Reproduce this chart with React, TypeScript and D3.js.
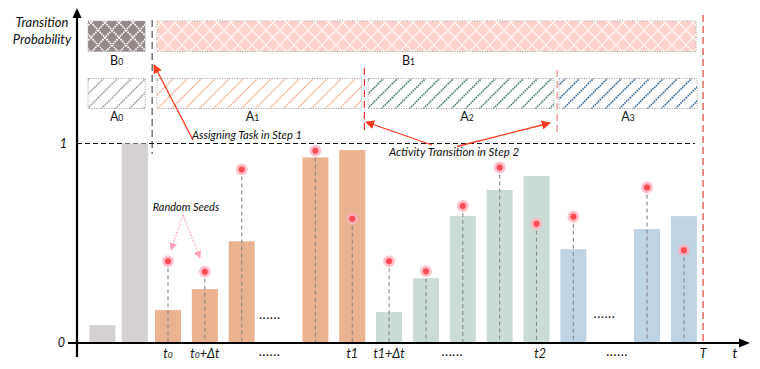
import React from 'react';
import * as d3 from 'd3';

// time slots (in units of Δt) for each bar, bar heights and random seeds
const barSlots = [-1.78, -0.9, 0, 1, 2, 4, 5, 6, 7, 8, 9, 10, 11, 13, 14];
const barValues = [0.09, 1.0, 0.165, 0.27, 0.51, 0.93, 0.967, 0.155, 0.325, 0.636, 0.767, 0.837, 0.47, 0.571, 0.636];
const barGroups = ['B0', 'B0', 'A1', 'A1', 'A1', 'A1', 'A1', 'A2', 'A2', 'A2', 'A2', 'A2', 'A3', 'A3', 'A3'];
const seedValues = [null, null, 0.41, 0.357, 0.87, 0.964, 0.623, 0.41, 0.36, 0.687, 0.88, 0.598, 0.633, 0.78, 0.465];

// tick labels on the time axis
const tickSlots = [0, 1, 2.77, 5, 6, 7.73, 10.1, 12.2, 14.52];
const tickMain = ['t', 't', '......', 't1', 't1+Δt', '......', 't2', '......', 'T'];
const tickSub = ['0', '0', '', '', '', '', '', '', ''];
const tickTail = ['', '+Δt', '', '', '', '', '', '', ''];

// activity segments (step 2) and task segments (step 1)
const activityNames = ['0', '1', '2', '3'];
const activityStart = [-2.17, -0.3, 5.43, 10.61];
const activityEnd = [-0.62, 5.26, 10.47, 14.36];
const taskNames = ['0', '1'];
const taskStart = [-2.17, -0.3];
const taskEnd = [-0.62, 14.33];

const barColor: Record<string, string> = { B0: '#d5d1d0', A1: '#ebb28f', A2: '#cbdbd6', A3: '#bfd3e3' };
const hatchColor = ['#a39c9b', '#f0b497', '#4e7e6c', '#3b6a92'];

export default function App() {
  const width = 760;
  const height = 369;
  const x = d3.scaleLinear().domain([0, 14]).range([168, 683.9]);
  const y = d3.scaleLinear().domain([0, 1]).range([343, 143.5]);
  const bw = 26;
  const font = 'Lato, "Open Sans", sans-serif';
  const axisX = 77;

  return (
    <svg width={width} height={height} style={{ display: 'block', position: 'absolute', left: 0, top: 0 }} fontFamily={font}>
      <defs>
        <pattern id="lattice" width="14" height="15" patternUnits="userSpaceOnUse">
          <path d="M0,0 L14,15 M14,0 L0,15" stroke="#fff" strokeWidth="1.7" strokeDasharray="1.6 0.9" />
        </pattern>
        {hatchColor.map((c, i) => (
          <pattern key={i} id={`hatch${i}`} width="14" height="14" patternUnits="userSpaceOnUse">
            <path d="M0,14 L14,0 M-2,2 L2,-2 M12,16 L16,12" stroke={c} strokeWidth="1.6" strokeDasharray="1.6 0.8" />
          </pattern>
        ))}
        <marker id="redHead" viewBox="0 0 10 10" refX="9" refY="5" markerWidth="7" markerHeight="7" orient="auto">
          <path d="M0,0 L10,5 L0,10 z" fill="#ff3b1f" />
        </marker>
        <marker id="pinkHead" viewBox="0 0 10 10" refX="9" refY="5" markerWidth="6" markerHeight="6" orient="auto">
          <path d="M0,0 L10,5 L0,10 z" fill="#ffa3b8" />
        </marker>
        <radialGradient id="halo">
          <stop offset="0%" stopColor="#ff8fa3" stopOpacity="0.9" />
          <stop offset="100%" stopColor="#ffb5c2" stopOpacity="0.7" />
        </radialGradient>
      </defs>

      {/* task boxes (step 1) */}
      {taskNames.map((n, i) => (
        <g key={`task${i}`}>
          <rect x={x(taskStart[i])} y={21} width={x(taskEnd[i]) - x(taskStart[i])} height={30.5}
            fill={i === 0 ? '#958a89' : '#ffd2cc'} stroke="#999" strokeWidth={1} strokeDasharray="1 1.5" />
          <rect x={x(taskStart[i])} y={21} width={x(taskEnd[i]) - x(taskStart[i])} height={30.5} fill="url(#lattice)" />
          <text x={(x(taskStart[i]) + x(taskEnd[i])) / 2 + (i === 1 ? -18 : 0)} y={65} fontSize={12.5} textAnchor="middle" fill="#111">
            B<tspan fontSize={8.5}>{n}</tspan>
          </text>
        </g>
      ))}

      {/* activity boxes (step 2) */}
      {activityNames.map((n, i) => (
        <g key={`act${i}`}>
          <rect x={x(activityStart[i])} y={78.5} width={x(activityEnd[i]) - x(activityStart[i])} height={30}
            fill={`url(#hatch${i})`} stroke="#999" strokeWidth={1} strokeDasharray="1 1.5" />
          <text x={(x(activityStart[i]) + x(activityEnd[i])) / 2 + (i === 1 ? -7 : 0) + (i === 2 ? 6 : 0)} y={121} fontSize={12.5} textAnchor="middle" fill="#111">
            A<tspan fontSize={8.5}>{n}</tspan>
          </text>
        </g>
      ))}

      {/* transition boundaries */}
      <line x1={x(-0.43)} x2={x(-0.43)} y1={20} y2={154} stroke="#555" strokeWidth={1.2} strokeDasharray="7 4" />
      <line x1={x(5.33)} x2={x(5.33)} y1={68} y2={133} stroke="#e8332a" strokeWidth={1.2} strokeDasharray="7 4" />
      <line x1={x(10.56)} x2={x(10.56)} y1={70} y2={133} stroke="#f28a86" strokeWidth={1.2} strokeDasharray="7 4" />
      <line x1={x(14.52)} x2={x(14.52)} y1={15} y2={y(0)} stroke="#d9433a" strokeWidth={1.2} strokeDasharray="7 4" />

      {/* probability = 1 line */}
      <line x1={axisX} x2={695} y1={y(1)} y2={y(1)} stroke="#111" strokeWidth={1.1} strokeDasharray="5 3" />

      {/* bars */}
      {barValues.map((v, i) => (
        <rect key={`bar${i}`} x={x(barSlots[i]) - bw / 2} y={y(v)} width={bw} height={y(0) - y(v)} fill={barColor[barGroups[i]]} />
      ))}

      {/* seeds */}
      {seedValues.map((v, i) => v == null ? null : (
        <g key={`seed${i}`}>
          <line x1={x(barSlots[i])} x2={x(barSlots[i])} y1={y(v)} y2={y(0)} stroke="#8a8a8a" strokeWidth={1.1} strokeDasharray="4 3" />
          <circle cx={x(barSlots[i])} cy={y(v)} r={6} fill="url(#halo)" />
          <circle cx={x(barSlots[i])} cy={y(v)} r={3} fill="#ff4d55" />
        </g>
      ))}

      {/* in-plot ellipses */}
      <text x={x(2.77)} y={319} fontSize={11} fontWeight="bold" textAnchor="middle" fill="#222" letterSpacing={1}>......</text>
      <text x={x(11.85)} y={318} fontSize={11} fontWeight="bold" textAnchor="middle" fill="#222" letterSpacing={1}>......</text>

      {/* axes */}
      <line x1={axisX} x2={axisX} y1={357} y2={16} stroke="#000" strokeWidth={2.2} />
      <path d={`M${axisX - 4.5},18 L${axisX},8 L${axisX + 4.5},18 z`} fill="#000" />
      <line x1={68} x2={741} y1={y(0)} y2={y(0)} stroke="#000" strokeWidth={2.2} />
      <path d={`M739,${y(0) - 4.5} L750,${y(0)} L739,${y(0) + 4.5} z`} fill="#000" />
      <text x={67} y={y(1) + 4} fontSize={12.5} fontStyle="italic" textAnchor="end" fill="#111">1</text>
      <text x={65} y={y(0) + 4} fontSize={12.5} fontStyle="italic" textAnchor="end" fill="#111">0</text>

      {tickMain.map((t, i) => (
        <text key={`tick${i}`} x={x(tickSlots[i])} y={t === '......' ? 356 : 358} fontSize={t === '......' ? 11 : 12.5}
          fontStyle="italic" fontWeight={t === '......' ? 'bold' : 'normal'} textAnchor="middle" fill="#111"
          letterSpacing={t === '......' ? 1 : 0}>
          {t}{tickSub[i] && <tspan fontSize={8.5}>{tickSub[i]}</tspan>}{tickTail[i]}
        </text>
      ))}
      <text x={735} y={358} fontSize={13.5} fontStyle="italic" textAnchor="middle" fill="#111">t</text>

      {/* y title */}
      <text x={42} y={27} fontSize={13} fontStyle="italic" textAnchor="middle" fill="#111">Transition</text>
      <text x={42} y={44} fontSize={13} fontStyle="italic" textAnchor="middle" fill="#111">Probability</text>

      {/* annotations */}
      <line x1={193} y1={140} x2={154} y2={65} stroke="#ff3b1f" strokeWidth={1.3} markerEnd="url(#redHead)" />
      <text x={192} y={139} fontSize={11.2} fontStyle="italic" fill="#111">Assigning Task in Step 1</text>
      <line x1={432} y1={145} x2={366} y2={122} stroke="#ff3b1f" strokeWidth={1.3} markerEnd="url(#redHead)" />
      <line x1={457} y1={146.5} x2={550} y2={123} stroke="#ff3b1f" strokeWidth={1.3} markerEnd="url(#redHead)" />
      <text x={389} y={156} fontSize={11.5} fontStyle="italic" fill="#111">Activity Transition in Step 2</text>

      <text x={186} y={211} fontSize={11} fontStyle="italic" textAnchor="middle" fill="#111">Random Seeds</text>
      <line x1={183} y1={215} x2={171} y2={250} stroke="#ffa3b8" strokeWidth={1.3} strokeDasharray="1.5 1.5" markerEnd="url(#pinkHead)" />
      <line x1={183} y1={215} x2={200} y2={258} stroke="#ffa3b8" strokeWidth={1.3} strokeDasharray="1.5 1.5" markerEnd="url(#pinkHead)" />
    </svg>
  );
}
